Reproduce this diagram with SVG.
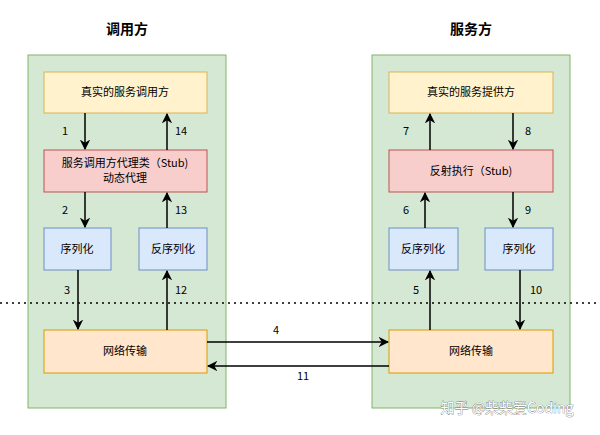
<svg xmlns="http://www.w3.org/2000/svg" width="600" height="435" viewBox="0 0 600 435">
<defs>
<marker id="ah" viewBox="0 0 10 10" refX="9" refY="5" markerWidth="7" markerHeight="7" orient="auto"><path d="M0,0 L10,5 L0,10 L3,5 z" fill="#000"/></marker>
<style>
text{font-family:"Noto Sans CJK SC","Liberation Sans",sans-serif;font-size:11px;fill:#000;text-anchor:middle}
.t{font-size:14px;font-weight:bold}
.lbl{font-size:11px;text-anchor:start}
.panel{fill:#d5e8d4;stroke:#82b366}
.y{fill:#fff2cc;stroke:#d6b656}
.p{fill:#f8cecc;stroke:#b85450}
.b{fill:#dae8fc;stroke:#6c8ebf}
.o{fill:#ffe6cc;stroke:#d79b00}
.c{stroke:#000;stroke-width:1.5;fill:none;marker-end:url(#ah)}
</style>
</defs>
<rect width="600" height="435" fill="#fff"/>
<rect class="panel" x="28" y="55" width="198" height="353"/>
<rect class="panel" x="372" y="55" width="198" height="353"/>
<text class="t" x="127" y="34">调用方</text>
<text class="t" x="471" y="34">服务方</text>
<line x1="0" y1="303" x2="600" y2="303" stroke="#000" stroke-width="1.5" stroke-dasharray="2,4"/>
<g id="l-real"><rect class="y" x="44" y="72" width="163" height="41"/><text x="125" y="96">真实的服务调用方</text></g>
<g id="l-stub"><rect class="p" x="44" y="150" width="163" height="42"/><text x="125" y="167">服务调用方代理类（Stub)</text><text x="125" y="182">动态代理</text></g>
<g id="l-ser"><rect class="b" x="44" y="228" width="67" height="42"/><text x="77" y="253">序列化</text></g>
<g id="l-deser"><rect class="b" x="139" y="228" width="68" height="42"/><text x="173" y="253">反序列化</text></g>
<g id="l-net"><rect class="o" x="44" y="330" width="163" height="43"/><text x="125" y="355">网络传输</text></g>
<g id="r-real"><rect class="y" x="389" y="72" width="164" height="41"/><text x="471" y="96">真实的服务提供方</text></g>
<g id="r-stub"><rect class="p" x="389" y="150" width="164" height="42"/><text x="471" y="175">反射执行（Stub)</text></g>
<g id="r-deser"><rect class="b" x="389" y="228" width="69" height="42"/><text x="423" y="253">反序列化</text></g>
<g id="r-ser"><rect class="b" x="485" y="228" width="68" height="42"/><text x="519" y="253">序列化</text></g>
<g id="r-net"><rect class="o" x="389" y="330" width="164" height="43"/><text x="471" y="355">网络传输</text></g>
<g id="connectors">
<line class="c" x1="85" y1="113" x2="85" y2="149"/><text class="lbl" x="62" y="135">1</text>
<line class="c" x1="167" y1="150" x2="167" y2="114"/><text class="lbl" x="175" y="135">14</text>
<line class="c" x1="85" y1="192" x2="85" y2="227"/><text class="lbl" x="62" y="214">2</text>
<line class="c" x1="167" y1="228" x2="167" y2="193"/><text class="lbl" x="175" y="214">13</text>
<line class="c" x1="78" y1="270" x2="78" y2="329"/><text class="lbl" x="64" y="294">3</text>
<line class="c" x1="167" y1="330" x2="167" y2="271"/><text class="lbl" x="175" y="294">12</text>
<line class="c" x1="430" y1="150" x2="430" y2="114"/><text class="lbl" x="403" y="135">7</text>
<line class="c" x1="513" y1="113" x2="513" y2="149"/><text class="lbl" x="525" y="135">8</text>
<line class="c" x1="425" y1="228" x2="425" y2="193"/><text class="lbl" x="403" y="214">6</text>
<line class="c" x1="513" y1="192" x2="513" y2="227"/><text class="lbl" x="525" y="214">9</text>
<line class="c" x1="430" y1="330" x2="430" y2="271"/><text class="lbl" x="413" y="294">5</text>
<line class="c" x1="520" y1="270" x2="520" y2="329"/><text class="lbl" x="530" y="294">10</text>
<line class="c" x1="207" y1="342" x2="388" y2="342"/><text class="lbl" x="273" y="334">4</text>
<line class="c" x1="389" y1="366" x2="208" y2="366"/><text class="lbl" x="297" y="380">11</text>
</g>
<text x="507" y="413" style="font-size:14px;fill:#fff;stroke:#666;stroke-width:0.6;paint-order:stroke">知乎 @柴柴爱Coding</text>
</svg>
